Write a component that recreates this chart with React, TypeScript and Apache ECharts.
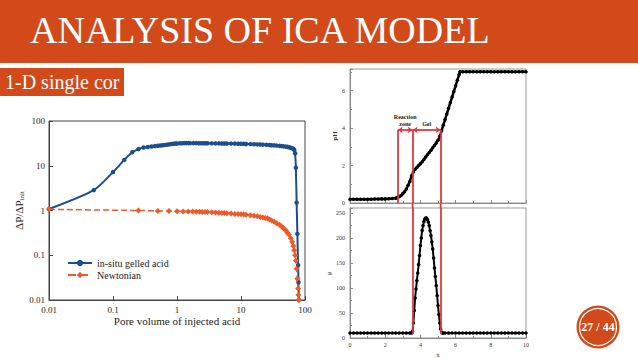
import React, { useEffect, useRef } from 'react';
import * as echarts from 'echarts';

// ---- Left chart: pressure drop ratio vs pore volume (log-log) ----
const pvGel = [0.01, 0.05, 0.1, 0.15, 0.2, 0.25, 0.3, 0.35, 0.4, 0.45, 0.5, 0.55, 0.6, 0.65, 0.7, 0.75, 0.8, 0.85, 0.9, 0.95, 1, 1.1, 1.2, 1.3, 1.4, 1.5, 1.6, 1.8, 2, 2.2, 2.4, 2.6, 2.8, 3, 3.5, 4, 4.5, 5, 5.5, 6, 7, 8, 9, 10, 11, 12, 14, 16, 18, 20, 22, 25, 28, 30, 33, 36, 40, 43, 46, 50, 53, 56, 60, 63, 66, 68, 70, 72, 74, 76, 78, 79, 80];
const dpGel = [1.08, 2.85, 7.2, 13.5, 20, 23.5, 25.5, 26.3, 27, 27.5, 28, 28.4, 28.8, 29.2, 29.6, 30, 30.4, 30.8, 31.1, 31.3, 31.5, 31.7, 31.9, 32, 32, 32, 32, 32, 32, 31.9, 31.9, 31.8, 31.8, 31.8, 31.7, 31.6, 31.6, 31.5, 31.5, 31.4, 31.3, 31.2, 31.1, 31, 30.9, 30.7, 30.5, 30.3, 30, 29.8, 29.6, 29.3, 29, 28.8, 28.5, 28.2, 27.8, 27.5, 27.1, 26.8, 26.4, 25.9, 25.2, 24.6, 23.8, 22.5, 19, 9, 1.5, 0.3, 0.06, 0.025, 0.01];
const pvNewt = [0.01, 0.25, 0.5, 0.75, 1, 1.25, 1.5, 1.75, 2, 2.25, 2.5, 2.75, 3, 3.5, 4, 4.5, 5, 5.5, 6, 7, 8, 9, 10, 11, 12, 14, 16, 18, 20, 22, 24, 26, 28, 30, 33, 36, 40, 43, 46, 50, 53, 56, 60, 63, 66, 68, 70, 72, 74, 76, 78, 79, 80];
const dpNewt = [1.06, 1.0, 0.98, 0.97, 0.96, 0.955, 0.95, 0.945, 0.94, 0.935, 0.93, 0.925, 0.92, 0.91, 0.9, 0.89, 0.88, 0.875, 0.87, 0.855, 0.84, 0.83, 0.82, 0.81, 0.8, 0.78, 0.76, 0.74, 0.72, 0.7, 0.68, 0.66, 0.63, 0.6, 0.56, 0.52, 0.48, 0.44, 0.4, 0.36, 0.32, 0.29, 0.24, 0.2, 0.16, 0.13, 0.1, 0.075, 0.05, 0.03, 0.018, 0.013, 0.01];
const seriesNames = ['in-situ gelled acid', 'Newtonian'];
const logTickLabels = ['0.01', '0.1', '1', '10', '100'];

// ---- Right top: pH profile ----
const xPh = [0, 0.2, 0.4, 0.6, 0.8, 1, 1.2, 1.4, 1.6, 1.8, 2, 2.2, 2.4, 2.6, 2.7, 2.8, 2.9, 3, 3.1, 3.2, 3.3, 3.4, 3.5, 3.6, 3.7, 3.8, 3.9, 4, 4.1, 4.2, 4.3, 4.4, 4.5, 4.6, 4.7, 4.8, 4.9, 5, 5.1, 5.2, 5.3, 5.4, 5.5, 5.6, 5.7, 5.8, 5.9, 6, 6.1, 6.2, 6.25, 6.4, 6.6, 6.8, 7, 7.2, 7.4, 7.6, 7.8, 8, 8.2, 8.4, 8.6, 8.8, 9, 9.2, 9.4, 9.6, 9.8, 10];
const phVals = [0.2, 0.2, 0.2, 0.2, 0.2, 0.2, 0.2, 0.21, 0.21, 0.22, 0.22, 0.23, 0.24, 0.26, 0.3, 0.35, 0.4, 0.5, 0.6, 0.75, 0.95, 1.15, 1.45, 1.65, 1.8, 1.9, 2.0, 2.1, 2.2, 2.32, 2.45, 2.57, 2.7, 2.82, 2.95, 3.07, 3.2, 3.35, 3.55, 3.85, 4.15, 4.45, 4.75, 5.05, 5.35, 5.65, 5.95, 6.25, 6.55, 6.85, 7.0, 7.0, 7.0, 7.0, 7.0, 7.0, 7.0, 7.0, 7.0, 7.0, 7.0, 7.0, 7.0, 7.0, 7.0, 7.0, 7.0, 7.0, 7.0, 7.0];

// ---- Right bottom: viscosity profile ----
const xMu = [0, 0.2, 0.4, 0.6, 0.8, 1, 1.2, 1.4, 1.6, 1.8, 2, 2.2, 2.4, 2.6, 2.8, 3, 3.2, 3.4, 3.5, 3.55, 3.6, 3.65, 3.7, 3.75, 3.8, 3.85, 3.9, 3.95, 4, 4.05, 4.1, 4.15, 4.2, 4.25, 4.3, 4.35, 4.4, 4.45, 4.5, 4.55, 4.6, 4.65, 4.7, 4.75, 4.8, 4.85, 4.9, 4.95, 5, 5.05, 5.1, 5.15, 5.2, 5.25, 5.3, 5.4, 5.6, 5.8, 6, 6.2, 6.4, 6.6, 6.8, 7, 7.2, 7.4, 7.6, 7.8, 8, 8.2, 8.4, 8.6, 8.8, 9, 9.2, 9.4, 9.6, 9.8, 10];
const muVals = [10, 10, 10, 10, 10, 10, 10, 10, 10, 10, 10, 10, 10, 10, 10, 10, 10, 10, 10, 13, 30, 55, 80, 98, 115, 130, 147, 165, 185, 200, 215, 225, 233, 238, 240, 240, 237, 232, 225, 215, 205, 192, 178, 160, 140, 123, 105, 85, 65, 47, 30, 18, 12, 10, 10, 10, 10, 10, 10, 10, 10, 10, 10, 10, 10, 10, 10, 10, 10, 10, 10, 10, 10, 10, 10, 10, 10, 10, 10];

// zone boundaries (x) and level (pH) of the arrows
const zoneBounds = [2.71, 3.56, 5.15];
const zoneLevel = 3.9;
const zoneNames = ['Reaction\nzone', 'Gel'];
const muLineBottom = 8;

const SERIF = '"Liberation Serif", "Times New Roman", serif';
const ORANGE = '#D2491A';
const RED = '#E5383B';
const BLUE = '#1C4E8F';
const NEWT = '#EE5A28';

const zip = (xs: number[], ys: number[]) => xs.map((x, i) => [x, ys[i]]);

export default function App() {
  const ref = useRef<HTMLDivElement>(null);
  useEffect(() => {
    if (!ref.current) return;
    const chart = echarts.init(ref.current, undefined, { renderer: 'svg' });

    const smallLabel = { fontFamily: SERIF, fontSize: 6, color: '#333' };
    const rightAxisCommon = {
      axisLine: { show: true, lineStyle: { color: '#888' } },
      axisTick: { show: true, inside: true, length: 3, lineStyle: { color: '#888' } },
      minorTick: { show: true, splitNumber: 2, length: 2, lineStyle: { color: '#888' } },
      splitLine: { show: false },
    };

    const option: any = {
      animation: false,
      backgroundColor: '#fff',
      grid: [
        { left: 49, top: 121, width: 256, height: 179, show: true, borderColor: '#444', borderWidth: 1, backgroundColor: 'transparent' },
        { left: 350, top: 69, width: 176, height: 134, show: true, borderColor: '#999', borderWidth: 1, backgroundColor: 'transparent' },
        { left: 350, top: 208, width: 176, height: 133, show: true, borderColor: '#999', borderWidth: 1, backgroundColor: 'transparent' },
      ],
      xAxis: [
        {
          gridIndex: 0, type: 'log', logBase: 10, min: 0.01, max: 100,
          name: 'Pore volume of injected acid', nameLocation: 'middle', nameGap: 15,
          nameTextStyle: { fontFamily: SERIF, fontSize: 11, color: '#222' },
          axisLine: { show: true, lineStyle: { color: '#444' } },
          axisTick: { inside: true, length: 4, lineStyle: { color: '#444' } },
          axisLabel: {
            fontFamily: SERIF, fontSize: 9, color: '#222', margin: 5,
            formatter: (v: number) => logTickLabels[Math.round(Math.log10(v)) + 2] ?? '',
          },
          splitLine: { show: false },
        },
        {
          gridIndex: 1, type: 'value', min: 0, max: 10, interval: 2,
          ...rightAxisCommon,
          axisLabel: { show: false },
        },
        {
          gridIndex: 2, type: 'value', min: 0, max: 10, interval: 2,
          ...rightAxisCommon,
          axisLabel: { ...smallLabel, margin: 4 },
          name: 'x', nameLocation: 'middle', nameGap: 13,
          nameTextStyle: { fontFamily: SERIF, fontSize: 7, color: '#333' },
        },
      ],
      yAxis: [
        {
          gridIndex: 0, type: 'log', logBase: 10, min: 0.01, max: 100,
          name: 'ΔP/ΔP{sub|init}', nameLocation: 'middle', nameGap: 19, nameRotate: 90,
          nameTextStyle: {
            fontFamily: SERIF, fontSize: 11, color: '#222',
            rich: { sub: { fontFamily: SERIF, fontSize: 7, color: '#222', verticalAlign: 'bottom', padding: [6, 0, 0, 0] } },
          },
          axisLine: { show: true, lineStyle: { color: '#444' } },
          axisTick: { inside: true, length: 4, lineStyle: { color: '#444' } },
          axisLabel: {
            fontFamily: SERIF, fontSize: 9, color: '#222', margin: 4,
            formatter: (v: number) => logTickLabels[Math.round(Math.log10(v)) + 2] ?? '',
          },
          splitLine: { show: false },
        },
        {
          gridIndex: 1, type: 'value', min: 0, max: 7.15, interval: 2,
          ...rightAxisCommon,
          axisLabel: { ...smallLabel, margin: 5, showMaxLabel: false },
          name: 'pH', nameLocation: 'middle', nameGap: 10, nameRotate: 90,
          nameTextStyle: { fontFamily: SERIF, fontSize: 7, color: '#333', fontWeight: 'bold' },
        },
        {
          gridIndex: 2, type: 'value', min: 0, max: 260, interval: 50,
          ...rightAxisCommon,
          axisLabel: { ...smallLabel, margin: 5, showMaxLabel: false },
          name: 'μ', nameLocation: 'middle', nameGap: 14, nameRotate: 90,
          nameTextStyle: { fontFamily: SERIF, fontSize: 7, color: '#333' },
        },
      ],
      legend: {
        left: 62, top: 253, orient: 'vertical', itemGap: 2, itemWidth: 24, itemHeight: 8,
        data: seriesNames,
        textStyle: { fontFamily: SERIF, fontSize: 10, color: '#222' },
      },
      series: [
        {
          name: seriesNames[0], type: 'line', xAxisIndex: 0, yAxisIndex: 0,
          data: zip(pvGel, dpGel), smooth: 0.25,
          symbol: 'circle', symbolSize: 4.5, showSymbol: true,
          lineStyle: { color: BLUE, width: 2 }, itemStyle: { color: BLUE },
        },
        {
          name: seriesNames[1], type: 'line', xAxisIndex: 0, yAxisIndex: 0,
          data: zip(pvNewt, dpNewt), smooth: 0.25,
          symbol: 'diamond', symbolSize: 6, showSymbol: true,
          lineStyle: { color: NEWT, width: 1.5, type: 'dashed' }, itemStyle: { color: NEWT },
        },
        {
          name: 'pH', type: 'line', xAxisIndex: 1, yAxisIndex: 1,
          data: zip(xPh, phVals), symbol: 'circle', symbolSize: 3.5,
          lineStyle: { color: '#000', width: 2.5 }, itemStyle: { color: '#000' },
          markLine: {
            silent: true, animation: false, symbol: 'none',
            lineStyle: { color: RED, width: 1.8, type: 'solid' },
            label: { show: false },
            data: [
              ...zoneBounds.map((b) => [
                { coord: [b, 0], symbol: 'none' },
                { coord: [b, zoneLevel], symbol: 'none' },
              ]),
              ...zoneNames.map((n, i) => [
                { coord: [zoneBounds[i], zoneLevel], symbol: 'arrow', symbolSize: 5,
                  label: { show: true, formatter: n, position: 'insideMiddleTop', distance: 2,
                    fontFamily: SERIF, fontSize: 6, fontWeight: 'bold', color: '#222', lineHeight: 7 } },
                { coord: [zoneBounds[i + 1], zoneLevel], symbol: 'arrow', symbolSize: 5 },
              ]),
            ],
          },
        },
        {
          name: 'mu', type: 'line', xAxisIndex: 2, yAxisIndex: 2,
          data: zip(xMu, muVals), symbol: 'circle', symbolSize: 3.5,
          lineStyle: { color: '#000', width: 2 }, itemStyle: { color: '#000' },
          markLine: {
            silent: true, animation: false, symbol: 'none',
            lineStyle: { color: RED, width: 1.8, type: 'solid' },
            label: { show: false },
            data: zoneBounds.slice(1).map((b) => [
              { coord: [b, muLineBottom] },
              { coord: [b, 260] },
            ]),
          },
        },
      ],
      graphic: [
        { type: 'rect', shape: { x: 0, y: 0, width: 638, height: 63 }, style: { fill: ORANGE }, z: 10 },
        {
          type: 'text', x: 30, y: 30, z: 11,
          style: { text: 'ANALYSIS OF ICA MODEL', font: `38px ${SERIF}`, fill: '#fff', verticalAlign: 'middle' },
        },
        { type: 'rect', shape: { x: 0, y: 68, width: 124, height: 28 }, style: { fill: ORANGE }, z: 10 },
        {
          type: 'text', x: 5, y: 82, z: 11,
          style: { text: '1-D single cor', font: `20px ${SERIF}`, fill: '#fff', verticalAlign: 'middle' },
        },
        { type: 'circle', shape: { cx: 598, cy: 327, r: 21.5 }, style: { fill: ORANGE }, z: 10 },
        { type: 'circle', shape: { cx: 598, cy: 327, r: 18.5 }, style: { fill: 'none', stroke: '#fff', lineWidth: 1.2 }, z: 11 },
        {
          type: 'text', x: 598, y: 327, z: 12,
          style: { text: '27 / 44', font: `bold 12px ${SERIF}`, fill: '#fff', align: 'center', verticalAlign: 'middle' },
        },
      ],
    };
    chart.setOption(option);

    // connect the red zone lines across the gap between the two right plots
    const extra: any[] = [];
    zoneBounds.slice(1).forEach((b, i) => {
      const p1 = chart.convertToPixel({ gridIndex: 1 }, [b, 0]) as number[];
      const p2 = chart.convertToPixel({ gridIndex: 2 }, [b, 260]) as number[];
      if (p1 && p2) {
        extra.push({
          type: 'line', id: 'gap' + i, z: 5,
          shape: { x1: p1[0], y1: p1[1], x2: p2[0], y2: p2[1] },
          style: { stroke: RED, lineWidth: 1.8 },
        });
      }
    });
    chart.setOption({ graphic: extra });

    return () => chart.dispose();
  }, []);

  return (
    <div
      ref={ref}
      style={{ position: 'fixed', left: 0, top: 0, width: 638, height: 359, background: '#fff' }}
    />
  );
}
